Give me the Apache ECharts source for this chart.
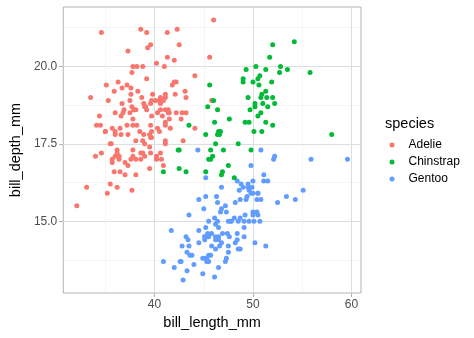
<!DOCTYPE html>
<html><head><meta charset="utf-8">
<script src="https://cdn.jsdelivr.net/npm/echarts@6/dist/echarts.min.js"></script>
<style>html,body{margin:0;padding:0;background:#fff}#c{width:474px;height:338px}</style>
</head><body><div id="c"></div>
<script>
const species = ["Adelie", "Chinstrap", "Gentoo"];
const colors = ["#F8766D", "#00BA38", "#619CFF"];
const xTicks = [40, 50, 60];
const yTicks = [15, 17.5, 20];
const xMinor = [35, 45, 55];
const yMinor = [13.75, 16.25, 18.75, 21.25];

const adelieLen = [39.1,39.5,40.3,36.7,39.3,38.9,39.2,34.1,42.0,37.8,37.8,41.1,38.6,34.6,36.6,38.7,42.5,34.4,46.0,37.8,37.7,35.9,38.2,38.8,35.3,40.6,40.5,37.9,40.5,39.5,37.2,39.5,40.9,36.4,39.2,38.8,42.2,37.6,39.8,36.5,40.8,36.0,44.1,37.0,39.6,41.1,37.5,36.0,42.3,39.6,40.1,35.0,42.0,34.5,41.4,39.0,40.6,36.5,37.6,35.7,41.3,37.6,41.1,36.4,41.6,35.5,41.1,35.9,41.8,33.5,39.7,39.6,45.8,35.5,42.8,40.9,37.2,36.2,42.1,34.6,42.9,36.7,35.1,37.3,41.3,36.3,36.9,38.3,38.9,35.7,41.1,34.0,39.6,36.2,40.8,38.1,40.3,33.1,43.2,35.0,41.0,37.7,37.8,37.9,39.7,38.6,38.2,38.1,43.2,38.1,45.6,39.7,42.2,39.6,42.7,38.6,37.3,35.7,41.1,36.2,37.7,40.2,41.4,35.2,40.6,38.8,41.5,39.0,44.1,38.5,43.1,36.8,37.5,38.1,41.1,35.6,40.2,37.0,39.7,40.2,40.6,32.1,40.7,37.3,39.0,39.2,36.6,36.0,37.8,36.0,41.5];
const adelieDep = [18.7,17.4,18.0,19.3,20.6,17.8,19.6,18.1,20.2,17.1,17.3,17.6,21.2,21.1,17.8,19.0,20.7,18.4,21.5,18.3,18.7,19.2,18.1,17.2,18.9,18.6,17.9,18.6,18.9,16.7,18.1,17.8,18.9,17.0,21.1,20.0,18.5,19.3,19.1,18.0,18.4,18.5,19.7,16.9,18.8,19.0,18.9,17.9,21.2,17.7,18.9,17.9,19.5,18.1,18.6,17.5,18.8,16.6,19.1,16.9,21.1,17.0,18.2,17.1,18.0,16.2,19.1,16.6,19.4,19.0,18.4,17.2,18.9,17.5,18.5,16.8,19.4,16.1,19.1,17.2,17.6,18.8,19.4,17.8,20.3,19.5,18.6,19.2,18.8,18.0,18.1,17.1,18.1,17.3,18.9,18.6,18.5,16.1,18.5,17.9,20.0,16.0,20.0,18.6,18.9,17.2,20.0,17.0,19.0,16.5,20.3,17.7,19.5,20.7,18.3,17.0,20.5,17.0,18.6,17.2,19.8,17.0,18.5,15.9,19.0,17.6,18.3,17.1,18.0,17.9,19.2,18.5,18.5,17.6,17.5,17.5,20.1,16.5,17.9,17.1,17.2,15.5,17.0,16.8,18.7,18.6,18.4,17.8,18.1,17.1,18.5];

const gentooLen = [46.1,50.0,48.7,50.0,47.6,46.5,45.4,46.7,43.3,46.8,40.9,49.0,45.5,48.4,45.8,49.3,42.0,49.2,46.2,48.7,50.2,45.1,46.5,46.3,42.9,46.1,44.5,47.8,48.2,50.0,47.3,42.8,45.1,59.6,49.1,48.4,42.6,44.4,44.0,48.7,42.7,49.6,45.3,49.6,50.5,43.6,45.5,50.5,44.9,45.2,46.6,48.5,45.1,50.1,46.5,45.0,43.8,45.5,43.2,50.4,45.3,46.2,45.7,54.3,45.8,49.8,46.2,49.5,43.5,50.7,47.7,46.4,48.2,46.5,46.4,48.6,47.5,51.1,45.2,45.2,49.1,52.5,47.4,50.0,44.9,50.8,43.4,51.3,47.5,52.1,47.5,52.2,45.5,49.5,44.5,50.8,49.4,46.9,48.4,51.1,48.5,55.9,47.2,49.1,47.3,46.8,41.7,53.4,43.3,48.1,50.5,49.8,43.5,51.5,46.2,55.1,44.5,48.8,47.2,46.8,50.4,45.2,49.9];
const gentooDep = [13.2,16.3,14.1,15.2,14.5,13.5,14.6,15.3,13.4,15.4,13.7,16.1,13.7,14.6,14.6,15.7,13.5,15.2,14.5,15.1,14.3,14.5,14.5,15.8,13.1,15.1,14.3,15.0,14.3,15.3,15.3,14.2,14.5,17.0,14.8,16.3,13.7,17.3,13.6,15.7,13.7,16.0,13.7,15.0,15.9,13.9,13.9,15.9,13.3,15.8,14.2,14.1,14.4,15.0,14.4,15.4,13.9,15.0,14.5,15.3,13.8,14.9,13.9,15.7,14.2,16.8,14.4,16.2,14.2,15.0,15.0,15.6,15.6,14.8,15.0,16.0,14.2,16.3,13.8,16.4,14.5,15.6,14.6,15.9,13.8,17.3,14.4,14.2,14.0,17.0,15.0,17.1,14.5,16.1,14.7,15.7,15.8,14.6,14.4,16.5,15.0,17.0,15.5,15.0,13.8,16.1,14.7,15.8,14.0,15.1,15.2,15.9,15.2,16.3,14.1,16.0,15.7,16.2,13.7,14.3,15.7,14.8,16.1];

const chinLen = [46.5,50.0,51.3,45.4,52.7,45.2,46.1,51.3,46.0,51.3,46.6,51.7,47.0,52.0,45.9,50.5,50.3,58.0,46.4,49.2,42.4,48.5,43.2,50.6,46.7,52.0,50.5,49.5,46.4,52.8,40.9,54.2,42.5,51.0,49.7,47.5,47.6,52.0,46.9,53.5,49.0,46.2,50.9,45.5,50.9,50.8,50.1,49.0,51.5,49.8,48.1,51.4,45.7,50.7,42.5,52.2,45.2,49.3,50.2,45.6,51.9,46.8,45.7,55.8,43.5,49.6,50.8,50.2];
const chinDep = [17.9,19.5,19.2,18.7,19.8,17.8,18.2,18.2,18.9,19.9,17.8,20.3,17.3,18.1,17.1,19.6,20.0,17.8,18.6,18.2,17.3,17.5,16.6,19.4,17.9,19.0,18.4,19.0,17.8,20.0,16.6,20.8,16.7,18.8,18.6,16.8,18.3,20.7,16.6,19.9,19.5,17.5,19.1,17.0,17.9,18.5,17.9,19.6,18.7,17.3,16.4,19.0,17.3,19.7,17.3,18.8,16.6,19.9,18.8,19.4,19.5,16.5,17.0,19.8,18.1,18.2,19.0,18.7];

const zip = (a, b) => a.map((v, i) => [v, b[i]]);
const axisGrey = "#b3b3b3";
const labelGrey = "#4d4d4d";
const font = "Liberation Sans, Arial, sans-serif";

function pointSeries(name, data, color) {
  return { name, type: "scatter", data, symbol: "circle", symbolSize: 5,
    itemStyle: { color, opacity: 1 }, z: 3, emphasis: { disabled: true }, animation: false };
}

const gridLines = {
  type: "scatter", data: [], silent: true, z: 1, animation: false,
  markLine: {
    silent: true, symbol: "none", animation: false, z: 1, label: { show: false },
    emphasis: { disabled: true },
    data: [
      ...xMinor.map(v => ({ xAxis: v, lineStyle: { color: "#efefef", width: 0.6, type: "solid" } })),
      ...yMinor.map(v => ({ yAxis: v, lineStyle: { color: "#efefef", width: 0.6, type: "solid" } })),
      ...xTicks.map(v => ({ xAxis: v, lineStyle: { color: "#dedede", width: 1, type: "solid" } })),
      ...yTicks.map(v => ({ yAxis: v, lineStyle: { color: "#dedede", width: 1, type: "solid" } }))
    ]
  }
};

const chart = echarts.init(document.getElementById("c"), null, { renderer: "canvas" });
chart.setOption({
  animation: false,
  backgroundColor: "#ffffff",
  textStyle: { fontFamily: font },
  title: { text: "species", left: 385, top: 116, padding: 0,
    textStyle: { fontSize: 14.5, fontWeight: "normal", color: "#000", fontFamily: font } },
  legend: {
    data: species.map((s, i) => ({ name: s, icon: "circle", itemStyle: { color: colors[i] } })),
    orient: "vertical", left: 389.5, top: 139, padding: 0, itemWidth: 5, itemHeight: 5, itemGap: 5,
    selectedMode: false,
    textStyle: { fontSize: 12, lineHeight: 12, color: "#000", fontFamily: font, padding: [0, 0, 0, 9] }
  },
  grid: { left: 56, right: 113, top: 7, bottom: 45, show: true, borderColor: axisGrey, borderWidth: 1,
    backgroundColor: "#fff", containLabel: false },
  xAxis: {
    type: "value", min: 30.725, max: 60.975,
    name: "bill_length_mm", nameLocation: "middle", nameGap: 21,
    nameTextStyle: { fontSize: 14.5, color: "#000", fontFamily: font },
    axisLine: { show: false },
    axisTick: { show: true, length: 4, lineStyle: { color: axisGrey }, customValues: xTicks },
    axisLabel: { color: labelGrey, fontSize: 12, margin: 6, fontFamily: font, customValues: xTicks,
      formatter: v => String(v) },
    splitLine: { show: false }, minorSplitLine: { show: false }
  },
  yAxis: {
    type: "value", min: 12.68, max: 21.92,
    name: "bill_depth_mm", nameLocation: "middle", nameGap: 35, nameRotate: 90,
    nameTextStyle: { fontSize: 14.5, color: "#000", fontFamily: font },
    axisLine: { show: false },
    axisTick: { show: true, length: 4, lineStyle: { color: axisGrey }, customValues: yTicks },
    axisLabel: { color: labelGrey, fontSize: 12, margin: 6, fontFamily: font, customValues: yTicks,
      formatter: v => Number(v).toFixed(1) },
    splitLine: { show: false }, minorSplitLine: { show: false }
  },
  series: [
    gridLines,
    pointSeries("Adelie", zip(adelieLen, adelieDep), colors[0]),
    pointSeries("Gentoo", zip(gentooLen, gentooDep), colors[2]),
    pointSeries("Chinstrap", zip(chinLen, chinDep), colors[1])
  ]
});
</script></body></html>
